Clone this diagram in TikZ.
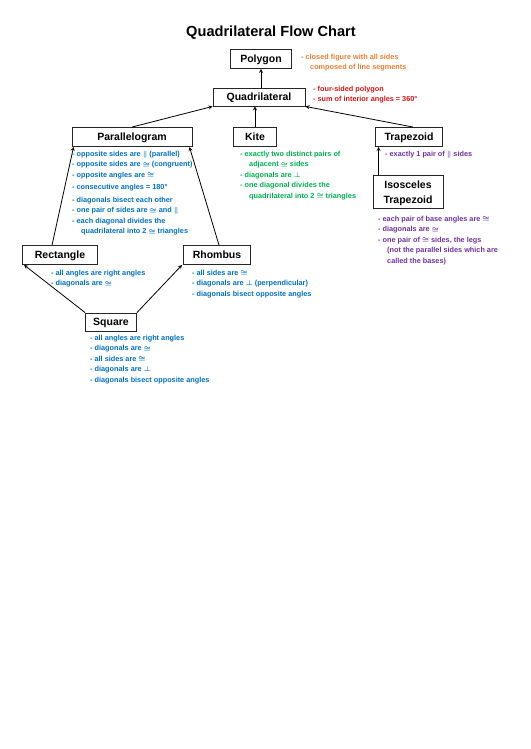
\documentclass[tikz,border=0pt]{standalone}
\usepackage{fontspec}
\setmainfont{Liberation Sans}
\usetikzlibrary{calc}
\definecolor{orng}{RGB}{237,125,49}
\definecolor{rd}{RGB}{220,20,20}
\definecolor{blu}{RGB}{0,112,192}
\definecolor{grn}{RGB}{0,176,80}
\definecolor{prp}{RGB}{112,48,160}
\newcommand{\ind}{\hspace*{9pt}}
\begin{document}
\begin{tikzpicture}[x=1pt,y=-1pt,>=stealth,
  box/.style={draw=black!85,line width=0.9pt,font=\fontsize{10.5}{15}\selectfont\bfseries,minimum height=19pt,inner sep=2pt,align=center,text height=7.6pt,text depth=0pt},
  note/.style={anchor=north west,align=left,inner sep=0pt,font=\fontsize{7.3}{10.5}\selectfont\bfseries\boldmath}]
\useasboundingbox (0,0) rectangle (530,749);
\node[font=\fontsize{14.6}{16}\selectfont\bfseries] (title) at (271,33) {Quadrilateral Flow Chart};
% boxes
\node[box,minimum width=61pt] (poly) at (261,59) {Polygon};
\node[box,minimum width=92pt,minimum height=18pt] (quad) at (259,97) {Quadrilateral};
\node[box,minimum width=120pt] (par) at (132,137) {Parallelogram};
\node[box,minimum width=43pt] (kite) at (255,137) {Kite};
\node[box,minimum width=67pt] (trap) at (409,137) {Trapezoid};
\node[box,minimum width=70pt,minimum height=33pt,text height=22.6pt] (iso) at (408,192) {Isosceles\\Trapezoid};
\node[box,minimum width=75pt] (rect) at (60,255) {Rectangle};
\node[box,minimum width=67pt] (rhom) at (217,255) {Rhombus};
\node[box,minimum width=51pt,minimum height=18pt] (sq) at (111,322) {Square};
% arrows
\draw[thick,->] (quad.north -| poly) -- (poly.south);
\draw[thick,->] (par.north) -- (quad.south west);
\draw[thick,->] (kite.north) -- (kite.north |- quad.south);
\draw[thick,->] ([xshift=4pt]trap.north) -- (quad.south east);
\draw[thick,->] ([xshift=6pt]iso.north west) -- ([xshift=6pt]iso.north west |- trap.south);
\draw[thick,->] ([xshift=30pt]rect.north west) -- ([xshift=2pt]par.south west);
\draw[thick,->] ([xshift=2pt]rhom.north) -- ([xshift=-3pt]par.south east);
\draw[thick,->] (sq.north west) -- ([xshift=2pt]rect.south west);
\draw[thick,->] (sq.north east) -- ([xshift=-1pt]rhom.south west);
% notes
\node[note,text=orng] (npoly) at (301,54) {- closed figure with all sides\\\ind composed of line segments};
\node[note,text=rd] (nquad) at (313,86) {- four-sided polygon\\- sum of interior angles = 360°};
\node[note,text=blu] (npar) at (72,151) {- opposite sides are $\parallel$ (parallel)\\- opposite sides are $\cong$ (congruent)\\- opposite angles are $\cong$\\[1.5pt]- consecutive angles = 180°\\[2.5pt]- diagonals bisect each other\\- one pair of sides are $\cong$ and $\parallel$\\- each diagonal divides the\\\ind quadrilateral into 2 $\cong$ triangles};
\node[note,text=grn] (nkite) at (240,151) {- exactly two distinct pairs of\\\ind adjacent $\cong$ sides\\- diagonals are $\perp$\\- one diagonal divides the\\\ind quadrilateral into 2 $\cong$ triangles};
\node[note,text=prp] (ntrap) at (385,151) {- exactly 1 pair of $\parallel$ sides};
\node[note,text=prp] (niso) at (378,216) {- each pair of base angles are $\cong$\\- diagonals are $\cong$\\- one pair of $\cong$ sides, the legs\\\ind (not the parallel sides which are\\\ind called the bases)};
\node[note,text=blu] (nrect) at (51,270) {- all angles are right angles\\- diagonals are $\cong$};
\node[note,text=blu] (nrhom) at (192,270) {- all sides are $\cong$\\- diagonals are $\perp$ (perpendicular)\\- diagonals bisect opposite angles};
\node[note,text=blu] (nsq) at (90,335) {- all angles are right angles\\- diagonals are $\cong$\\- all sides are $\cong$\\- diagonals are $\perp$\\- diagonals bisect opposite angles};
\end{tikzpicture}
\end{document}
